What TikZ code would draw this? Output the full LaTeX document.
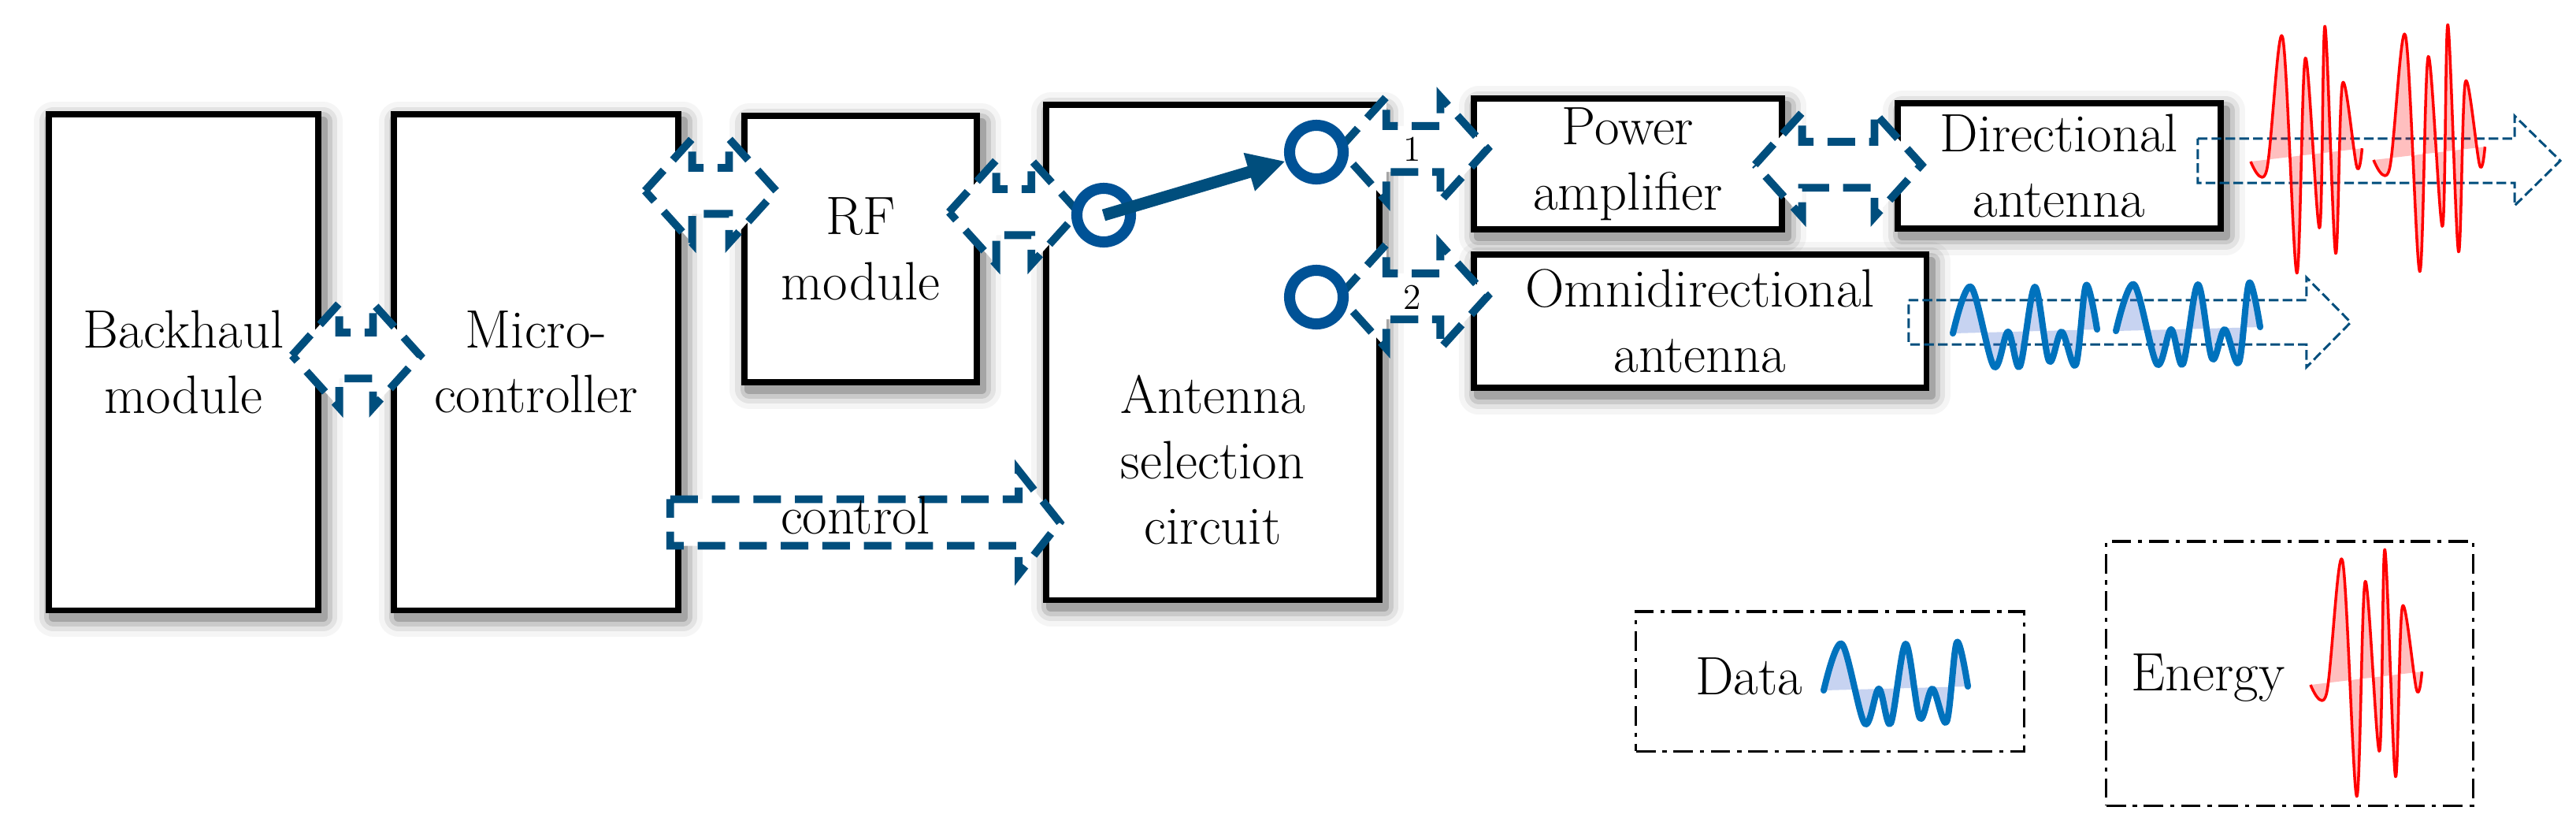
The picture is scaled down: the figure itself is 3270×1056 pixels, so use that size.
\documentclass[tikz,border=0pt]{standalone}
\usetikzlibrary{calc,arrows.meta}
\definecolor{dblue}{RGB}{0,78,125}
\definecolor{cblue}{RGB}{0,82,150}
\definecolor{wblue}{RGB}{0,114,189}
\definecolor{wfill}{RGB}{70,110,210}
\newcommand{\lblfont}{\fontsize{19.5pt}{23.5pt}\selectfont}
\newcommand{\numfont}{\fontsize{13pt}{15pt}\selectfont}
\tikzset{
 shadowed/.style={
  preaction={draw=black, draw opacity=0.04, line width=14pt, line join=round, transform canvas={shift={(6,9)}}},
  preaction={draw=black, draw opacity=0.07, line width=10pt, line join=round, transform canvas={shift={(6,9)}}},
  preaction={draw=black, draw opacity=0.11, line width=6.5pt, line join=round, transform canvas={shift={(6,9)}}},
  preaction={draw=black, draw opacity=0.18, line width=3.5pt, line join=round, transform canvas={shift={(6,9)}}}},
 blk/.style={shadowed, draw=black, line width=2.1pt, fill=white, inner sep=0pt, align=center, font=\lblfont},
 txt/.style={inner sep=0pt, align=center, font=\lblfont},
 bigarrow/.style={draw=dblue, fill=white, line width=2.8pt, dash pattern=on 10pt off 5pt},
 thinarrow/.style={draw=dblue, line width=0.85pt, dash pattern=on 3.5pt off 1.5pt},
 swc/.style={circle, draw=cblue, fill=white, line width=4pt, minimum size=0.68cm, inner sep=0pt},
 swarrow/.style={draw=dblue, line width=4.3pt, -{Triangle[length=13.6pt,width=13.4pt]}},
 legbox/.style={draw=black, line width=0.9pt, dash pattern=on 7pt off 2.5pt on 1.5pt off 2.5pt, inner sep=0pt},
 ewave/.style={draw=red, line width=1pt, fill=red, fill opacity=0.25, line join=round},
 dwave/.style={draw=wblue, line width=2.3pt, fill=wfill, fill opacity=0.3, line join=round, line cap=round}
}
\newcommand{\dblarr}[2]{%
  \draw[bigarrow] let \p1=(#1), \p2=(#2) in
  (\x1,\y1) -- (\x1+17pt,\y1+18.8pt) -- (\x1+17pt,\y1+8.3pt) -- (\x2-17pt,\y1+8.3pt)
  -- (\x2-17pt,\y1+18.8pt) -- (\x2,\y1) -- (\x2-17pt,\y1-18.8pt) -- (\x2-17pt,\y1-8.3pt)
  -- (\x1+17pt,\y1-8.3pt) -- (\x1+17pt,\y1-18.8pt) -- cycle;}
\newcommand{\sglarr}[6]{%
  \draw[#3] let \p1=(#1), \p2=(#2) in
  (\x1,\y1+#5) -- (\x2-#6,\y1+#5) -- (\x2-#6,\y1+#4) -- (\x2,\y1) -- (\x2-#6,\y1-#4)
  -- (\x2-#6,\y1-#5) -- (\x1,\y1-#5) -- cycle;}
\newcommand{\energywave}[1]{\draw[ewave, shift={#1}] plot[smooth,tension=0.55] coordinates
  {(0,0) (20.2,11.5) (40.4,-158.3) (58.6,141.5) (69.4,-131.3) (87.5,84.2) (94.3,-171.7)
   (107.8,116.5) (116.5,-99) (134.7,6.8) (141.4,-16.8)};}
\newcommand{\datawave}[1]{\draw[dwave, shift={#1}] plot[smooth,tension=0.55] coordinates
  {(0,0) (23,-59) (52,42) (70,-2) (85,42) (104,-59) (122,35) (138,-2) (156,40) (169,-61) (183,-5)};}
\begin{document}
\begin{tikzpicture}[x=0.01cm,y=-0.01cm]
\fill[white] (0,0) rectangle (3270,1056);
\useasboundingbox (0,0) rectangle (3270,1056);
% boxes
\node[blk, minimum width=3.42cm, minimum height=6.29cm] (bh) at (233,459.5) {Backhaul\\module};
\node[blk, minimum width=3.61cm, minimum height=6.29cm] (mc) at (680.5,459.5) {Micro-\\controller};
\node[blk, minimum width=2.95cm, minimum height=3.38cm] (rf) at (1092.5,316) {RF\\module};
\node[blk, minimum width=4.23cm, minimum height=6.28cm] (asc) at (1539.5,447) {};
\node[txt] (asct) at (1539.5,583.6) {Antenna\\selection\\circuit};
\node[blk, minimum width=3.91cm, minimum height=1.66cm] (pa) at (2066.5,208) {Power\\amplifier};
\node[blk, minimum width=4.10cm, minimum height=1.59cm] (dir) at (2614,210.5) {Directional\\antenna};
\node[blk, minimum width=5.74cm, minimum height=1.69cm] (omni) at (2158,407.5) {Omnidirectional\\antenna};
% switch circles (positions)
\coordinate (in1c) at (1401,273);
\coordinate (o1c) at (1671,193);
\coordinate (o2c) at (1671,377);
% arrow end points
\coordinate (aAs) at ($(bh.east)+(-37,-8.5)$);
\coordinate (aAe) at ($(mc.west)+(37,-8.5)$);
\coordinate (aBs) at ($(mc.north east)+(-46,101)$);
\coordinate (aBe) at ($(rf.north west)+(44,99)$);
\coordinate (aCs) at ($(rf.north east)+(-39,126)$);
\coordinate (aCe) at ($(in1c)+(-32,0)$);
\coordinate (a1s) at ($(o1c)+(29,-4)$);
\coordinate (a1e) at ($(pa.west)+(21,-19)$);
\coordinate (a2s) at ($(o2c)+(29,-1)$);
\coordinate (a2e) at ($(omni.west)+(21,-31.5)$);
\coordinate (aDs) at ($(pa.east)+(-38,1)$);
\coordinate (aDe) at ($(dir.west)+(34,-1.5)$);
\coordinate (cs) at ($(mc.east)+(-14,203.5)$);
\coordinate (ce) at ($(asc.west)+(21,216)$);
\coordinate (ds) at ($(dir.east)+(-33,-6.5)$);
\coordinate (dout) at (3250,204);
\coordinate (os) at ($(omni.east)+(-26,1.5)$);
\coordinate (oout) at (2984,409);
% big dashed arrows
\dblarr{aAs}{aAe}
\dblarr{aBs}{aBe}
\dblarr{aCs}{aCe}
\dblarr{a1s}{a1e}
\dblarr{a2s}{a2e}
\dblarr{aDs}{aDe}
\sglarr{cs}{ce}{bigarrow}{18.7pt}{8.4pt}{14.8pt}
% switch
\node[swc] (in1) at (in1c) {};
\node[swc] (o1) at (o1c) {};
\node[swc] (o2) at (o2c) {};
\draw[swarrow] (in1.center) -- (o1);
% labels on arrows
\node[txt, anchor=base] (ctl) at (1086,677) {control};
\node[inner sep=0pt, font=\numfont] (n1) at (1793,189) {1};
\node[inner sep=0pt, font=\numfont] (n2) at (1793,377) {2};
% thin output arrows
\sglarr{ds}{dout}{thinarrow}{16.2pt}{8pt}{16.5pt}
\sglarr{os}{oout}{thinarrow}{16.2pt}{8pt}{16pt}
% waves
\energywave{(2857,205)}
\energywave{(3013,203)}
\datawave{(2479,423)}
\datawave{(2686,420)}
% legend
\node[legbox, minimum width=4.92cm, minimum height=1.77cm] (ldata) at (2323,864.5) {};
\node[txt, anchor=base] (ldatat) at (2220,881) {Data};
\datawave{(2315,876)}
\node[legbox, minimum width=4.65cm, minimum height=3.35cm] (lenergy) at (2906.5,854.5) {};
\node[txt, anchor=base] (lenergyt) at (2803,876) {Energy};
\energywave{(2933,869)}
\end{tikzpicture}
\end{document}
